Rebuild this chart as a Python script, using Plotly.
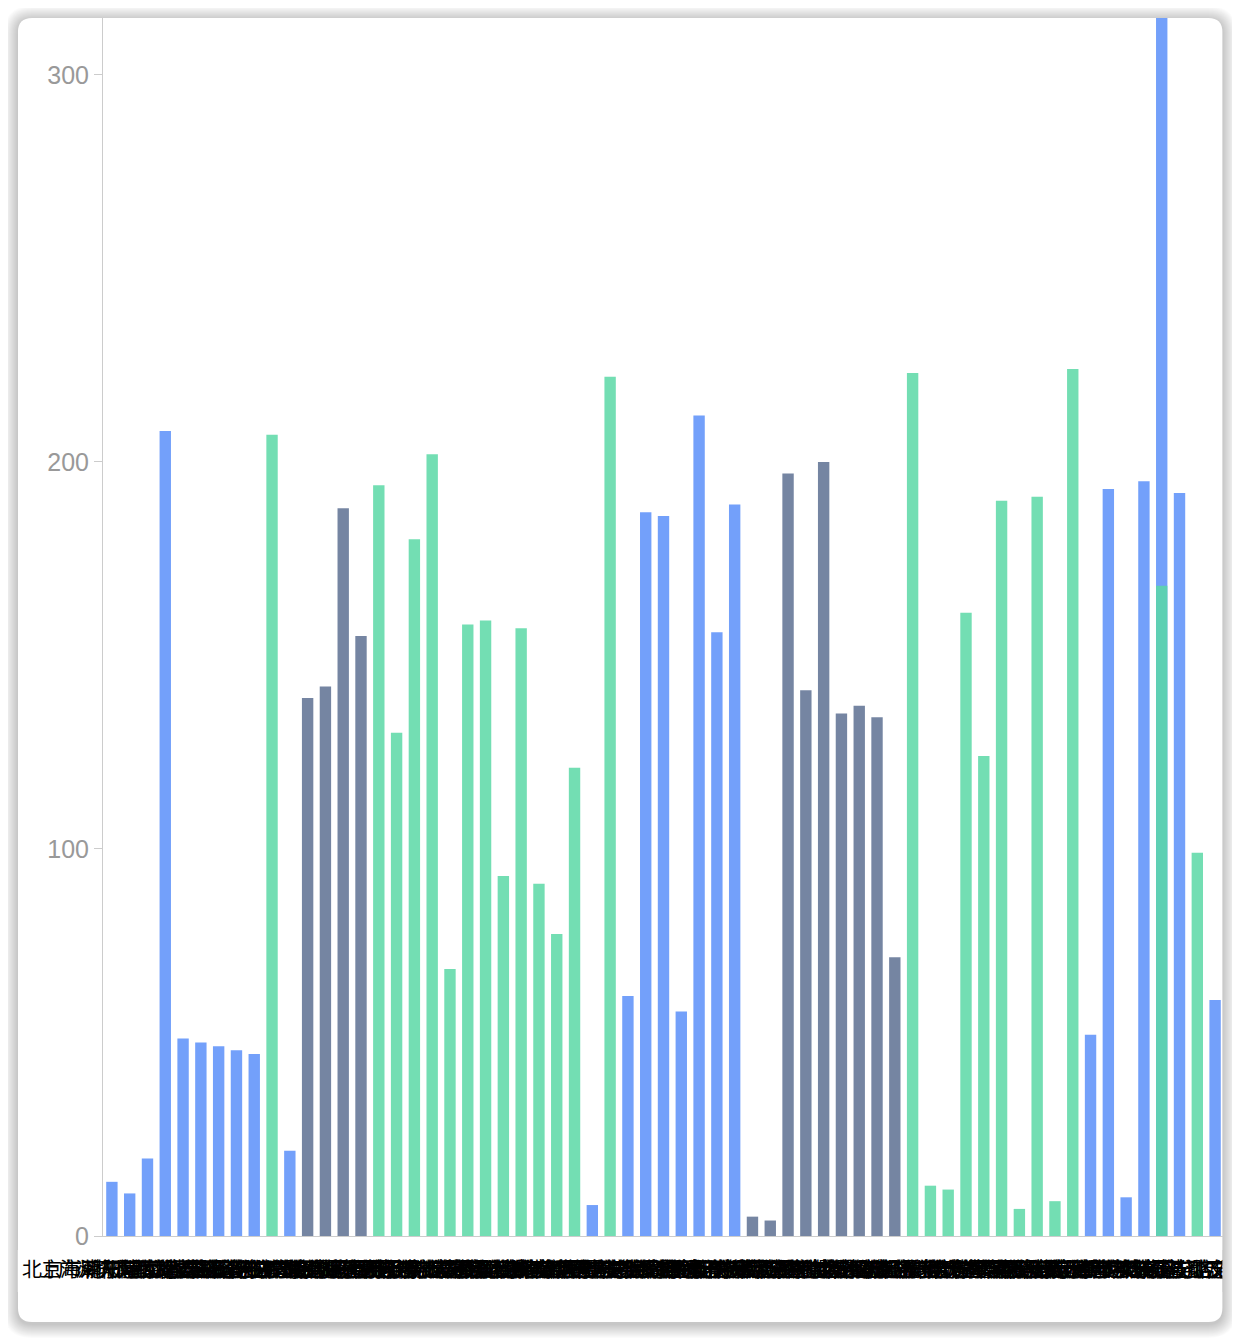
import plotly.graph_objects as go

categories = [
    "北京市朝阳望京分店", "上海浦东陆家嘴分店", "广州天河体育西路店", "深圳南山科技园分店",
    "杭州西湖文三路分店", "成都武侯高新区分店", "南京鼓楼新街口分店", "武汉洪山光谷广场店",
    "西安雁塔小寨路分店", "重庆渝中解放碑分店", "天津和平滨江道分店", "苏州工业园湖东分店",
    "长沙岳麓梅溪湖分店", "郑州金水花园路分店", "青岛市南香港路分店", "厦门思明中山路分店",
    "合肥蜀山政务区分店", "济南历下泉城路分店", "沈阳和平太原街分店", "大连中山人民路分店",
    "昆明五华南屏街分店", "福州鼓楼五四路分店", "宁波鄞州南部商务店", "无锡梁溪崇安寺分店",
    "东莞南城鸿福路分店", "佛山禅城祖庙路分店", "哈尔滨道里中央大街", "长春朝阳红旗街分店",
    "石家庄长安北国商城", "太原小店亲贤街分店", "南昌红谷滩新区分店", "贵阳观山湖金阳分店",
    "南宁青秀民族大道店", "兰州城关西关什字店", "海口龙华国贸路分店", "乌鲁木齐天山区分店",
    "呼和浩特新城区分店", "银川金凤万达广场店", "西宁城西胜利路分店", "拉萨城关北京路分店",
    "珠海香洲拱北口岸店", "温州鹿城五马街分店", "绍兴越城解放路分店", "嘉兴南湖万达广场店",
    "金华婺城八一街分店", "台州椒江市府大道店", "徐州云龙彭城广场店", "常州新北万达广场店",
    "南通崇川南大街分店", "扬州广陵文昌路分店", "烟台芝罘南大街分店", "潍坊奎文东风街分店",
    "洛阳涧西王城大道店", "宜昌西陵夷陵广场店", "襄阳樊城人民广场店", "株洲天元神农城分店",
    "湘潭雨湖步步高分店", "赣州章贡文清路分店", "泉州丰泽东街分店店", "漳州芗城延安路分店",
    "惠州惠城江北分店铺", "中山石岐孙文路分店", "江门蓬江万达广场店",
]

N = None
blue_values = [
    14, 11, 20, 208, 51, 50, 49, 48, 47, N,
    22, N, N, N, N, N, N, N, N, N,
    N, N, N, N, N, N, N, 8, N, 62,
    187, 186, 58, 212, 156, 189, N, N, N, N,
    N, N, N, N, N, N, N, N, N, N,
    N, N, N, N, N, 52, 193, 10, 195, 330,
    192, N, 61,
]
green_values = [
    N, N, N, N, N, N, N, N, N, 207,
    N, N, N, N, N, 194, 130, 180, 202, 69,
    158, 159, 93, 157, 91, 78, 121, N, 222, N,
    N, N, N, N, N, N, N, N, N, N,
    N, N, N, N, N, 223, 13, 12, 161, 124,
    190, 7, 191, 9, 224, N, N, N, N, 168,
    N, 99, N,
]
dark_values = [
    N, N, N, N, N, N, N, N, N, N,
    N, 139, 142, 188, 155, N, N, N, N, N,
    N, N, N, N, N, N, N, N, N, N,
    N, N, N, N, N, N, 5, 4, 197, 141,
    200, 135, 137, 134, 72, N, N, N, N, N,
    N, N, N, N, N, N, N, N, N, N,
    N, N, N,
]
y_ticks = [0, 100, 200, 300]

# page body adds 8px offset; figure sized to fit the 1240x1340 window
OFF = 8
W, H = 1232, 1332
ML = 103 - OFF
MT = 18 - OFF
MR = W - (1223.6 - OFF)
MB = H - (1236 - OFF)
PW, PH = W - ML - MR, H - MT - MB


def px(x):
    return (x - OFF - ML) / PW


def py(y):
    return (H - MB - (y - OFF)) / PH


def rounded(x0, y0, x1, y1, r):
    return (
        f"M {px(x0 + r)},{py(y0)} L {px(x1 - r)},{py(y0)} Q {px(x1)},{py(y0)} {px(x1)},{py(y0 + r)} "
        f"L {px(x1)},{py(y1 - r)} Q {px(x1)},{py(y1)} {px(x1 - r)},{py(y1)} "
        f"L {px(x0 + r)},{py(y1)} Q {px(x0)},{py(y1)} {px(x0)},{py(y1 - r)} "
        f"L {px(x0)},{py(y0 + r)} Q {px(x0)},{py(y0)} {px(x0 + r)},{py(y0)} Z"
    )


def rect(x0, y0, x1, y1, color, layer):
    return dict(type="rect", xref="paper", yref="paper", layer=layer,
                x0=px(x0), x1=px(x1), y0=py(y1), y1=py(y0),
                fillcolor=color, line=dict(width=0))


SH = 14
SA = "rgba(0,0,0,0.016)"
shapes = []
for i in range(SH, 0, -1):
    shapes.append(dict(
        type="path", xref="paper", yref="paper", layer="below",
        path=rounded(18 - i, 18 - i + 2, 1222 + i, 1322 + i + 2, 14 + i),
        fillcolor=SA, line=dict(width=0),
    ))
shapes.append(dict(
    type="path", xref="paper", yref="paper", layer="below",
    path=rounded(18, 18, 1222, 1322, 14),
    fillcolor="#ffffff", line=dict(width=0),
))
# hide tick text that spills outside the card edges (card clips it in the reference)
for side in ("left", "right"):
    if side == "right":
        shapes.append(rect(1222, 1250, 1245, 1292, "#ffffff", "above"))
        for i in range(SH, 0, -1):
            shapes.append(rect(1222, 1250, 1222 + i, 1292, SA, "above"))
    else:
        shapes.append(rect(-5, 1250, 18, 1292, "#ffffff", "above"))
        for i in range(SH, 0, -1):
            shapes.append(rect(18 - i, 1250, 18, 1292, SA, "above"))

fig = go.Figure()
fig.add_trace(go.Bar(x=categories, y=blue_values, marker=dict(color="#5B8FF9", opacity=0.85, line=dict(width=0)), name="A"))
fig.add_trace(go.Bar(x=categories, y=green_values, marker=dict(color="#5AD8A6", opacity=0.85, line=dict(width=0)), name="B"))
fig.add_trace(go.Bar(x=categories, y=dark_values, marker=dict(color="#5D7092", opacity=0.85, line=dict(width=0)), name="C"))

fig.update_layout(
    width=W, height=H,
    margin=dict(l=ML, r=MR, t=MT, b=MB, pad=0, autoexpand=False),
    paper_bgcolor="#ffffff",
    plot_bgcolor="rgba(0,0,0,0)",
    barmode="overlay",
    bargap=0.36,
    showlegend=False,
    shapes=shapes,
    font=dict(family="Noto Sans CJK SC, Liberation Sans, sans-serif"),
)
fig.update_xaxes(
    type="category", tickmode="array", tickvals=categories, ticktext=categories,
    tickangle=0, tickfont=dict(size=20, color="#000000", family="Noto Sans CJK SC"),
    ticks="outside", ticklen=16, tickcolor="rgba(0,0,0,0)",
    showline=True, linecolor="#cccccc", linewidth=1, automargin=False,
    showgrid=False, zeroline=False, range=[-0.5, 62.5], fixedrange=True,
)
fig.update_yaxes(
    range=[0, 314.7], tickmode="array", tickvals=y_ticks,
    tickfont=dict(size=25, color="#999999", family="Liberation Sans"),
    ticks="outside", ticklen=8, tickcolor="#cccccc",
    showline=True, linecolor="#cccccc", linewidth=1, automargin=False,
    showgrid=False, zeroline=False,
)

fig.write_html("out.html")
